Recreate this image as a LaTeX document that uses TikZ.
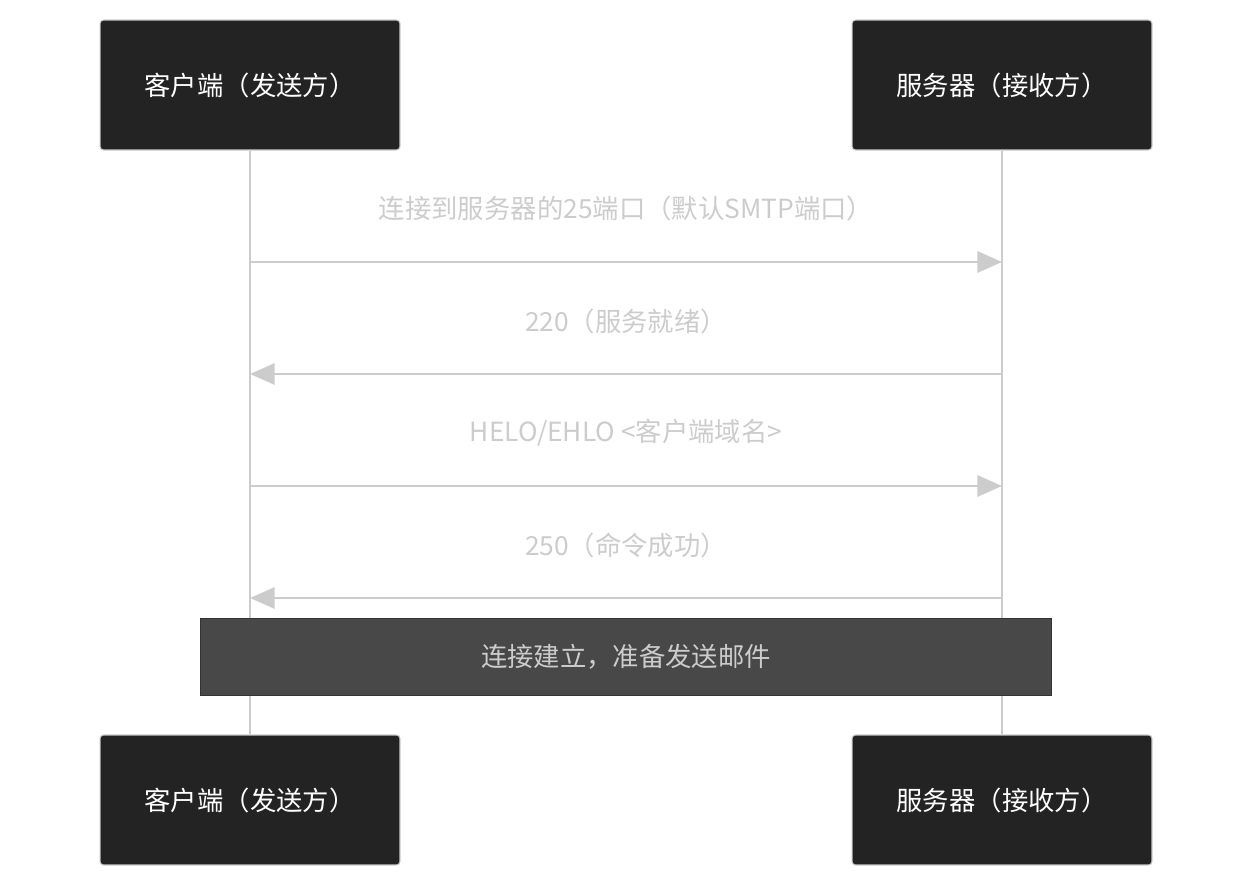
\documentclass[tikz,border=0pt]{standalone}
\usepackage{fontspec}
\setmainfont{Noto Sans CJK SC}
\usetikzlibrary{arrows.meta}
\definecolor{boxfill}{HTML}{222322}
\definecolor{boxline}{HTML}{C8C8C8}
\definecolor{linec}{HTML}{CCCCCC}
\definecolor{msgc}{HTML}{CCCCCC}
\definecolor{notefill}{HTML}{474847}
\begin{document}
\begin{tikzpicture}[x=0.02cm,y=-0.02cm,
  actor/.style={draw=boxline,fill=boxfill,rounded corners=2pt,minimum width=6cm,minimum height=2.6cm,text=white,font=\fontsize{15}{18}\selectfont,line width=0.6pt},
  msg/.style={text=msgc,font=\fontsize{15}{18}\selectfont},
  arr/.style={draw=linec,line width=1.5pt,-{Triangle[length=14pt,width=12pt]}},
  life/.style={draw=linec,line width=1.5pt}]
\useasboundingbox (0,0) rectangle (1252,888);
\node[actor] (a1) at (250,85) {客户端（发送方）};
\node[actor] (b1) at (1002,85) {服务器（接收方）};
\node[actor] (a2) at (250,800) {客户端（发送方）};
\node[actor] (b2) at (1002,800) {服务器（接收方）};
\draw[life] (a1.south) -- (a2.north);
\draw[life] (b1.south) -- (b2.north);
\coordinate (a3) at (250,262); \coordinate (b3) at (1002,262);
\coordinate (a4) at (250,374); \coordinate (b4) at (1002,374);
\coordinate (a5) at (250,486); \coordinate (b5) at (1002,486);
\coordinate (a6) at (250,598); \coordinate (b6) at (1002,598);
\draw[arr] (a3) -- (b3);
\draw[arr] (b4) -- (a4);
\draw[arr] (a5) -- (b5);
\draw[arr] (b6) -- (a6);
\node[msg] (m1) at (626,208) {连接到服务器的25端口（默认SMTP端口）};
\node[msg] (m2) at (626,321) {220（服务就绪）};
\node[msg] (m3) at (626,433) {HELO/EHLO <客户端域名>};
\node[msg] (m4) at (626,545) {250（命令成功）};
\node[draw=black!80,fill=notefill,minimum width=17.04cm,minimum height=1.54cm,text=msgc,font=\fontsize{15}{18}\selectfont,line width=0.6pt] (n) at (626,657) {连接建立，准备发送邮件};
\end{tikzpicture}
\end{document}
